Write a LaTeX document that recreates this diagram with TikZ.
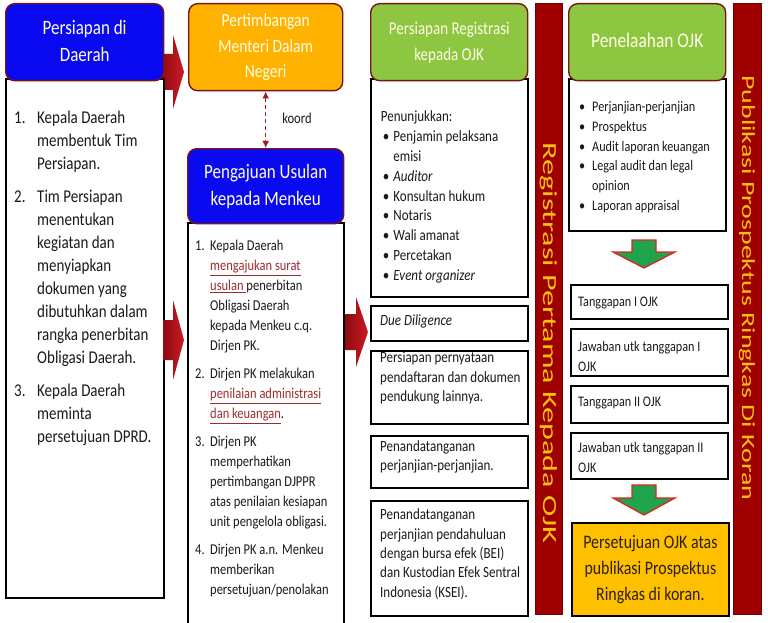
\documentclass[tikz,border=0pt]{standalone}
\usepackage{fontspec}
\setmainfont{Carlito}
\usepackage{graphicx}
\usetikzlibrary{arrows.meta}
\definecolor{hblue}{HTML}{0A0AF0}
\definecolor{horange}{HTML}{FFB300}
\definecolor{hgreen}{HTML}{8DC641}
\definecolor{hborder}{HTML}{7A1414}
\definecolor{htext}{HTML}{FFFDE6}
\definecolor{barred}{HTML}{9E0000}
\definecolor{barborder}{HTML}{780000}
\definecolor{bartext}{HTML}{FFC20E}
\definecolor{finorange}{HTML}{FFC000}
\definecolor{fintext}{HTML}{2E2000}
\definecolor{ulred}{HTML}{9B2D30}
\definecolor{arrdark}{HTML}{8E0A10}
\definecolor{arrlight}{HTML}{CC1A24}
\definecolor{koordred}{HTML}{A51C1C}
\definecolor{garrow}{HTML}{1DA44C}
\definecolor{garrowedge}{HTML}{E52222}
\definecolor{bodytext}{HTML}{1A1A1A}

\newlength\itmind
\newcommand\Itm[2]{\par\hangindent=\itmind\hangafter=1\noindent\makebox[\itmind][l]{#1}#2\par}
\newcommand\VS[3]{\scalebox{1}[1.2]{\begin{minipage}[t]{200pt}\rightskip=0pt plus 1fil\fontsize{#1}{#2}\selectfont #3\end{minipage}}}
\newcommand\HD[3]{\scalebox{1}[1.2]{\fontsize{#1}{#2}\selectfont\begin{tabular}{@{}c@{}}#3\end{tabular}}}
\newcommand\ulr[1]{\textcolor{ulred}{\underline{#1}}}

\begin{document}
\begin{tikzpicture}[x=1pt,y=-1pt,
  hdr/.style={draw=hborder,line width=1.4pt,rounded corners=9pt,anchor=north west,inner sep=0pt,text=htext},
  bodybox/.style={draw=black,line width=1.8pt,fill=white,anchor=north west,inner sep=0pt},
  txt/.style={anchor=base west,inner sep=0pt,text=bodytext},
  barbox/.style={draw=barborder,line width=1pt,fill=barred,anchor=north west,inner sep=0pt},
  bartxt/.style={rotate=-90,inner sep=0pt,text=bartext},
  redarrow/.style={left color=arrdark,right color=arrlight},
  greenarrow/.style={fill=garrow,draw=garrowedge,line width=1.3pt,line join=miter},
  darr/.style={draw=koordred,line width=1.5pt,dash pattern=on 4pt off 3pt,{Latex[length=7pt,width=7pt]}-{Latex[length=7pt,width=7pt]}}
]
\useasboundingbox (0,0) rectangle (768,623);

% ---------- column 1 ----------
\shade[redarrow] (160,54) -- (173,54) -- (173,35) -- (184,72) -- (173,109) -- (173,90) -- (160,90) -- cycle;
\node[bodybox,minimum width=158pt,minimum height=519pt] (b1) at (5,78) {};
\node[hdr,fill=hblue,minimum width=158pt,minimum height=77pt] (h1) at (5,3)
  {\raisebox{-2pt}{\HD{17}{22.5}{Persiapan di\\Daerah}}};
\node[txt] (t1) at (14,123.8) {\VS{15}{19.17}{\setlength\itmind{23pt}%
  \Itm{1.}{Kepala Daerah\\membentuk Tim\\Persiapan.}\vspace{8pt}%
  \Itm{2.}{Tim Persiapan\\menentukan\\kegiatan dan\\menyiapkan\\dokumen yang\\dibutuhkan dalam\\rangka penerbitan\\Obligasi Daerah.}\vspace{8pt}%
  \Itm{3.}{Kepala Daerah\\meminta\\persetujuan DPRD.}}};

% ---------- column 2 ----------
\node[bodybox,minimum width=156pt,minimum height=420pt] (b2) at (187,222) {};
\node[hdr,fill=horange,minimum width=154pt,minimum height=87pt] (h2) at (188,3)
  {\raisebox{-4pt}{\HD{15.5}{21.2}{Pertimbangan\\Menteri Dalam\\Negeri}}};
\node[hdr,fill=hblue,minimum width=156pt,minimum height=75pt] (h3) at (187,148)
  {\raisebox{-3pt}{\HD{17}{22.5}{Pengajuan Usulan\\kepada Menkeu}}};
\draw[darr] (h2.south) -- (h3.north);
\node[inner sep=0pt,text=bodytext] (koord) at (297,118) {\scalebox{1}[1.2]{\fontsize{12.6}{15}\selectfont koord}};
\node[txt] (t2) at (195,250.8) {\VS{12.5}{16.67}{\setlength\itmind{15pt}%
  \Itm{1.}{Kepala Daerah\\\ulr{mengajukan surat}\\\ulr{usulan\ }penerbitan\\Obligasi Daerah\\kepada Menkeu c.q.\\Dirjen PK.}\vspace{6.67pt}%
  \Itm{2.}{Dirjen PK melakukan\\\ulr{penilaian administrasi}\\\ulr{dan keuangan}.}\vspace{6.67pt}%
  \Itm{3.}{Dirjen PK\\memperhatikan\\pertimbangan DJPPR\\atas penilaian kesiapan\\unit pengelola obligasi.}\vspace{6.67pt}%
  \Itm{4.}{Dirjen PK a.n. Menkeu\\memberikan\\persetujuan/penolakan}}};
\shade[redarrow] (163,320) -- (173,320) -- (173,300) -- (184,340) -- (173,380) -- (173,360) -- (163,360) -- cycle;

% ---------- column 3 ----------
\node[bodybox,minimum width=157pt,minimum height=218pt] (b3) at (370,78) {};
\node[hdr,fill=hgreen,minimum width=157pt,minimum height=77pt] (h4) at (370,3)
  {\raisebox{-3.5pt}{\HD{15}{21.7}{Persiapan Registrasi\\kepada OJK}}};
\node[txt] (t3) at (380.7,122) {\VS{13}{16.46}{\setlength\itmind{12.5pt}%
  Penunjukkan:\par
  \Itm{\hspace{2pt}\textbullet}{Penjamin pelaksana\\emisi}%
  \Itm{\hspace{2pt}\textbullet}{\textit{Auditor}}%
  \Itm{\hspace{2pt}\textbullet}{Konsultan hukum}%
  \Itm{\hspace{2pt}\textbullet}{Notaris}%
  \Itm{\hspace{2pt}\textbullet}{Wali amanat}%
  \Itm{\hspace{2pt}\textbullet}{Percetakan}%
  \Itm{\hspace{2pt}\textbullet}{\textit{Event organizer}}}};
\shade[redarrow] (345,314) -- (356,314) -- (356,297) -- (368,332) -- (356,367) -- (356,350) -- (345,350) -- cycle;
\node[bodybox,minimum width=157pt,minimum height=35pt] (c1) at (370,305) {};
\node[txt] (c1t) at (380,325.8) {\VS{13}{16.3}{\textit{Due Diligence}}};
\node[bodybox,minimum width=157pt,minimum height=73pt] (c2) at (370,350) {};
\node[txt] (c2t) at (380,362.8) {\VS{13}{16.3}{Persiapan pernyataan\\pendaftaran dan dokumen\\pendukung lainnya.}};
\node[bodybox,minimum width=157pt,minimum height=52pt] (c3) at (370,435) {};
\node[txt] (c3t) at (380,451.8) {\VS{13}{15.6}{Penandatanganan\\perjanjian-perjanjian.}};
\node[bodybox,minimum width=157pt,minimum height=115pt] (c4) at (370,500) {};
\node[txt] (c4t) at (380,519.8) {\VS{13}{16.1}{Penandatanganan\\perjanjian pendahuluan\\dengan bursa efek (BEI)\\dan Kustodian Efek Sentral\\Indonesia (KSEI).}};

% ---------- bar 1 ----------
\node[barbox,minimum width=27pt,minimum height=611pt] (bar1) at (535,3) {};
\node[bartxt] (bar1t) at (548.5,343) {\fontsize{20}{24}\selectfont\resizebox{400pt}{\height}{Registrasi Pertama Kepada OJK}};

% ---------- column 4 ----------
\node[bodybox,minimum width=157pt,minimum height=152pt] (b4) at (568,78) {};
\node[hdr,fill=hgreen,minimum width=157pt,minimum height=77pt] (h5) at (568,3)
  {\raisebox{-5pt}{\HD{17.4}{22}{Penelaahan OJK}}};
\node[txt] (t4) at (579,111.7) {\VS{12.2}{16.4}{\setlength\itmind{13pt}%
  \Itm{\textbullet}{Perjanjian-perjanjian}%
  \Itm{\textbullet}{Prospektus}%
  \Itm{\textbullet}{Audit laporan keuangan}%
  \Itm{\textbullet}{Legal audit dan legal\\opinion}%
  \Itm{\textbullet}{Laporan appraisal}}};
\filldraw[greenarrow] (632,240) -- (656,240) -- (656,252) -- (675,252) -- (644,268) -- (613,252) -- (632,252) -- cycle;
\node[bodybox,minimum width=157pt,minimum height=34pt] (d1) at (570,284) {};
\node[txt] (d1t) at (578,306.7) {\VS{12.2}{16.5}{Tanggapan I OJK}};
\node[bodybox,minimum width=157pt,minimum height=47pt] (d2) at (570,328) {};
\node[txt] (d2t) at (578,351.7) {\VS{12.2}{16.5}{Jawaban utk tanggapan I\\OJK}};
\node[bodybox,minimum width=157pt,minimum height=37pt] (d3) at (570,385) {};
\node[txt] (d3t) at (578,406.7) {\VS{12.2}{16.5}{Tanggapan II OJK}};
\node[bodybox,minimum width=157pt,minimum height=46pt] (d4) at (570,432) {};
\node[txt] (d4t) at (578,452.7) {\VS{12.2}{16.5}{Jawaban utk tanggapan II\\OJK}};
\filldraw[greenarrow] (632,485) -- (656,485) -- (656,498) -- (675,498) -- (644,515) -- (613,498) -- (632,498) -- cycle;
\node[bodybox,fill=finorange,minimum width=157pt,minimum height=93pt,text=fintext] (fin) at (571,522)
  {\raisebox{-2.5pt}{\HD{15.9}{21.7}{Persetujuan OJK atas\\publikasi Prospektus\\Ringkas di koran.}}};

% ---------- bar 2 ----------
\node[barbox,minimum width=28pt,minimum height=611pt] (bar2) at (733,3) {};
\node[bartxt] (bar2t) at (747,288) {\fontsize{18.5}{22}\selectfont\resizebox{425pt}{\height}{Publikasi Prospektus Ringkas Di Koran}};
\end{tikzpicture}
\end{document}
